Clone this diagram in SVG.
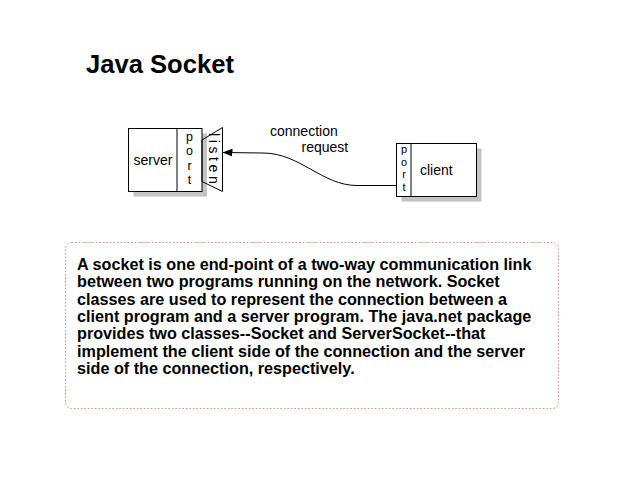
<svg xmlns="http://www.w3.org/2000/svg" width="638" height="493" viewBox="0 0 638 493">
<defs>
<style>
.box{fill:#fff;stroke:#000;stroke-width:1}
.shadow{fill:#c4c4c4}
.ln{stroke:#000;stroke-width:1;fill:none}
.lbl{font-family:"Liberation Sans",Arial,sans-serif;font-size:14px;fill:#000}
.port{font-family:"Liberation Sans",Arial,sans-serif;font-size:12.5px;fill:#000;text-anchor:middle}
.cport{font-family:"Liberation Sans",Arial,sans-serif;font-size:11px;fill:#000;text-anchor:middle}
.body{font-family:"Liberation Sans",Arial,sans-serif;font-size:16.2px;font-weight:bold;fill:#000}
</style>
<marker id="arrow" viewBox="0 0 10 8" refX="10" refY="4" markerWidth="10" markerHeight="8" orient="auto" markerUnits="userSpaceOnUse">
<path d="M0,0 L10,4 L0,8 z" fill="#000"/>
</marker>
</defs>
<rect width="638" height="493" fill="#fff"/>
<text id="title" x="86" y="73" font-family="'Liberation Sans',Arial,sans-serif" font-size="25.6" font-weight="bold" fill="#000">Java Socket</text>
<g id="server">
<rect class="shadow" x="133.5" y="133.5" width="73.5" height="63"/>
<rect class="box" x="128.5" y="128.5" width="73.5" height="63"/>
<line class="ln" x1="177" y1="128.5" x2="177" y2="191.5"/>
<text class="lbl" x="153" y="165" text-anchor="middle">server</text>
<text class="port" x="189.5" y="140.5">p</text>
<text class="port" x="189.5" y="155">o</text>
<text class="port" x="189.5" y="169.5">r</text>
<text class="port" x="189.5" y="184">t</text>
</g>
<g id="listen">
<polygon class="ln" points="202,140 222.5,127.5 222.5,191.5 202,181.5"/>
<text class="lbl" transform="translate(208.5,133) rotate(90)" x="0" y="0" letter-spacing="3.6">listen</text>
</g>
<g id="client">
<rect class="shadow" x="401.5" y="148.5" width="80" height="53"/>
<rect class="box" x="396.5" y="143.5" width="80" height="53"/>
<line class="ln" x1="411" y1="143.5" x2="411" y2="196.5"/>
<text class="lbl" x="420" y="175">client</text>
<text class="cport" x="404" y="153">p</text>
<text class="cport" x="404" y="165.5">o</text>
<text class="cport" x="404" y="178">r</text>
<text class="cport" x="404" y="190.5">t</text>
</g>
<g id="connectors">
<path class="ln" d="M396.5,185.5 L357,185.5 C322,185.5 300,153 263,153 L222.5,152.5" marker-end="url(#arrow)"/>
<text class="lbl" x="270" y="136">connection</text>
<text class="lbl" x="301.5" y="152">request</text>
</g>
<g id="description">
<rect x="65.5" y="242.5" width="493" height="166" rx="6" ry="6" fill="none" stroke="#d98c8c" stroke-width="1" stroke-dasharray="1.5,2"/>
<text class="body" x="77" y="270">A socket is one end-point of a two-way communication link</text>
<text class="body" x="77" y="287.3">between two programs running on the network. Socket</text>
<text class="body" x="77" y="304.6">classes are used to represent the connection between a</text>
<text class="body" x="77" y="321.9">client program and a server program. The java.net package</text>
<text class="body" x="77" y="339.2">provides two classes--Socket and ServerSocket--that</text>
<text class="body" x="77" y="356.5">implement the client side of the connection and the server</text>
<text class="body" x="77" y="373.8">side of the connection, respectively.</text>
</g>
</svg>
